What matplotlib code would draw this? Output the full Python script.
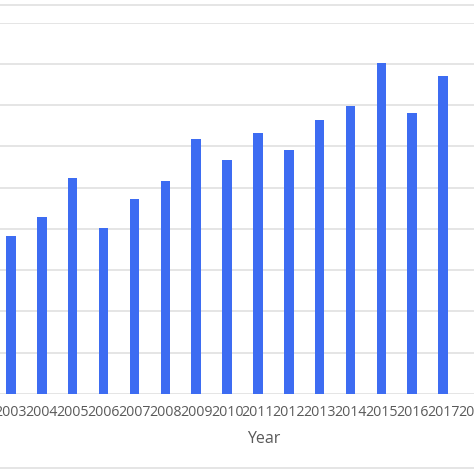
import matplotlib
matplotlib.use('Agg')
import matplotlib.pyplot as plt
from matplotlib.lines import Line2D

# visible part of the chart (2018 bar lies beyond the right edge)
years = ['2003', '2004', '2005', '2006', '2007', '2008', '2009', '2010',
         '2011', '2012', '2013', '2014', '2015', '2016', '2017', '2018']
values = [3.83, 4.28, 5.23, 4.03, 4.72, 5.15, 6.18, 5.67,
          6.32, 5.92, 6.63, 6.98, 8.03, 6.80, 7.71]

bar_color = '#3d6cf2'
grid_color = '#e0e0e0'
text_color = '#595959'

plt.rcParams['font.family'] = ['Open Sans', 'DejaVu Sans']

fig = plt.figure(figsize=(4.74, 4.74), dpi=100)
ax = fig.add_axes([0, 80 / 474, 1, (394 - 22.5) / 474])

ax.bar(range(len(values)), values, width=0.31, color=bar_color, zorder=3)

ax.set_xlim(-0.354, 14.646)
ax.set_ylim(0, 9)
ax.set_yticks(range(10))
ax.yaxis.grid(True, color=grid_color, linewidth=1.2, zorder=0)
ax.tick_params(axis='y', left=False, labelleft=False)
ax.set_xticks(range(len(years)))
ax.set_xticklabels(years, fontsize=10.2, color=text_color)
ax.tick_params(axis='x', length=0, pad=8)
for s in ax.spines.values():
    s.set_visible(False)

fig.text(264 / 474, (474 - 439) / 474, 'Year', fontsize=11.5, color=text_color,
         ha='center', va='center')

# outer chart border lines
for yy in [(474 - 5) / 474, (474 - 468) / 474]:
    fig.add_artist(Line2D([0, 1], [yy, yy], color=grid_color, linewidth=1.2))

fig.savefig('out.png', dpi=100)
